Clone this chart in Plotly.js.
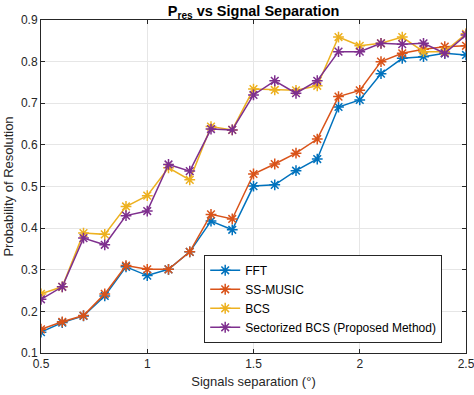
<!DOCTYPE html>
<html><head><meta charset="utf-8">
<script src="https://cdn.plot.ly/plotly-3.0.1.min.js"></script>
<style>body{margin:0;background:#fff}#c{width:474px;height:395px}</style>
</head><body><div id="c"></div>
<script>
const separation = [0.5,0.6,0.7,0.8,0.9,1.0,1.1,1.2,1.3,1.4,1.5,1.6,1.7,1.8,1.9,2.0,2.1,2.2,2.3,2.4,2.5];
const fft      = [0.150,0.173,0.189,0.237,0.307,0.286,0.301,0.343,0.417,0.396,0.501,0.504,0.538,0.566,0.691,0.708,0.771,0.808,0.812,0.820,0.816];
const ssMusic  = [0.157,0.175,0.190,0.242,0.310,0.301,0.301,0.343,0.433,0.422,0.530,0.554,0.580,0.614,0.716,0.731,0.800,0.820,0.830,0.836,0.838];
const bcs      = [0.242,0.259,0.388,0.385,0.452,0.478,0.545,0.516,0.644,0.636,0.734,0.732,0.731,0.742,0.859,0.838,0.844,0.859,0.824,0.824,0.867];
const sbcs     = [0.229,0.259,0.376,0.360,0.430,0.441,0.553,0.537,0.638,0.636,0.720,0.754,0.724,0.754,0.824,0.824,0.844,0.842,0.844,0.820,0.864];
const names = ['FFT','SS-MUSIC','BCS','Sectorized BCS (Proposed Method)'];
const colors = ['#0072BD','#D95319','#EDB120','#7E2F8E'];
const series = [fft, ssMusic, bcs, sbcs];
const traces = series.map((s,i)=>({
  x: separation, y: s, name: names[i], type:'scatter', mode:'lines+markers',
  line:{color:colors[i], width:1.5},
  marker:{symbol:'asterisk-open', size:9, color:colors[i], line:{color:colors[i], width:1.5}}
}));
const ff = 'Liberation Sans, Arial, sans-serif';
const tickFont = {family:ff, size:12, color:'#262626'};
const layout = {
  width:474, height:395,
  margin:{l:41, r:8, t:20, b:42},
  paper_bgcolor:'#fff', plot_bgcolor:'#fff',
  title:{text:'<b>P<sub>res</sub> vs Signal Separation</b>', x:0.535, xanchor:'center', y:0.985, yanchor:'top',
    font:{family:ff, size:14.5, color:'#000'}},
  xaxis:{range:[0.5,2.5], tickvals:[0.5,1,1.5,2,2.5], ticktext:['0.5','1','1.5','2','2.5'],
    showgrid:true, gridcolor:'#e6e6e6', zeroline:false, showline:true, linecolor:'#262626', linewidth:1, mirror:'ticks',
    ticks:'inside', ticklen:4, tickcolor:'#262626', tickfont:tickFont, ticklabeloverflow:'allow',
    title:{text:'Signals separation (°)', standoff:6, font:{family:ff, size:13, color:'#262626'}}},
  yaxis:{range:[0.1,0.9], tickvals:[0.1,0.2,0.3,0.4,0.5,0.6,0.7,0.8,0.9], ticktext:['0.1','0.2','0.3','0.4','0.5','0.6','0.7','0.8','0.9'],
    showgrid:true, gridcolor:'#e6e6e6', zeroline:false, showline:true, linecolor:'#262626', linewidth:1, mirror:'ticks',
    ticks:'inside', ticklen:4, tickcolor:'#262626', tickfont:tickFont,
    title:{text:'Probability of Resolution', standoff:4, font:{family:ff, size:13, color:'#262626'}}},
  showlegend:true,
  legend:{x:0.384, y:0.295, xanchor:'left', yanchor:'top', bgcolor:'#fff', bordercolor:'#262626', borderwidth:1,
    font:{family:ff, size:12, color:'#000'}, tracegroupgap:0, itemwidth:30}
};
Plotly.newPlot('c', traces, layout, {displayModeBar:false, staticPlot:true});
</script></body></html>
